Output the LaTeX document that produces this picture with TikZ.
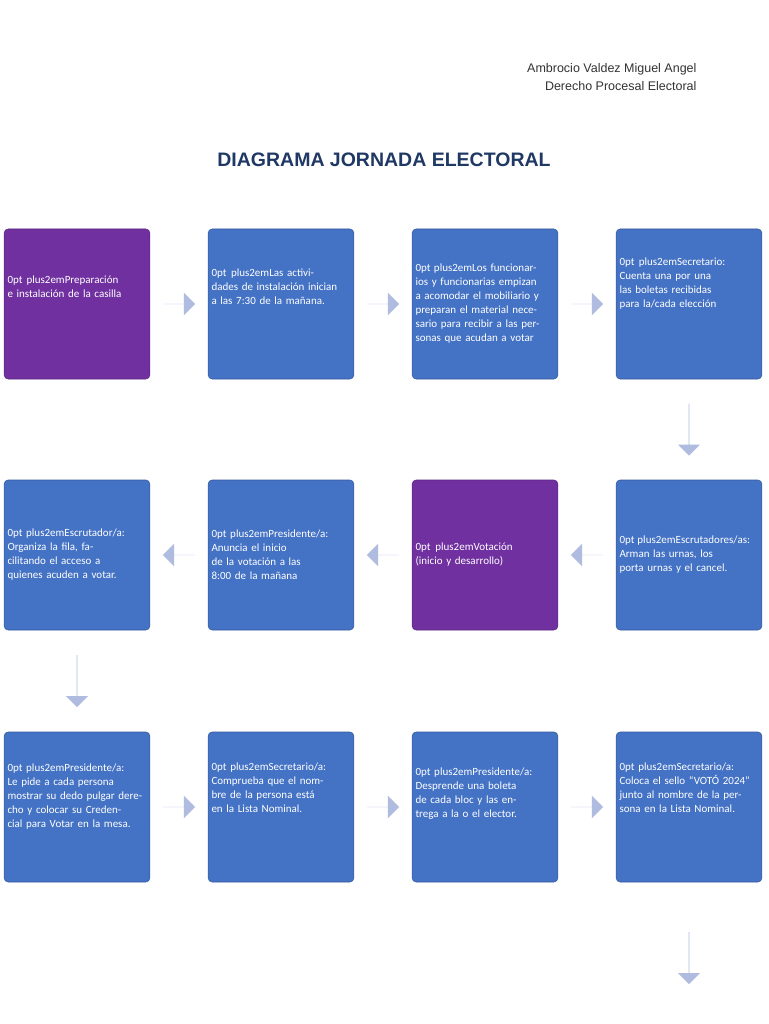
\documentclass[tikz,border=0pt]{standalone}
\usepackage{fontspec}
\setmainfont{Carlito}
\newfontfamily\headfont{Liberation Sans}
\usepackage{xcolor}
\usetikzlibrary{shapes.arrows,calc}
\definecolor{boxblue}{HTML}{4472C4}
\definecolor{boxpurple}{HTML}{7030A0}
\definecolor{arrowblue}{HTML}{AFBCE0}
\definecolor{titleblue}{HTML}{1F3864}
\tikzstyle{stepbox} = [rectangle, rounded corners=4pt, minimum width=145pt, minimum height=150pt, text width=139pt, align=center, fill=boxblue, draw=boxblue!80!black, line width=0.6pt, text=white, font=\fontsize{11}{14}\selectfont\hyphenpenalty=10000\spaceskip=0.25em plus 0.1em]
\tikzstyle{phase} = [stepbox, fill=boxpurple, draw=boxpurple!80!black]
\tikzstyle{blockarrow} = [single arrow, fill=arrowblue, minimum height=32pt, minimum width=22pt, single arrow head extend=11pt, inner sep=0pt, single arrow tip angle=90]
\tikzstyle{downarrow} = [blockarrow, shape border rotate=270, minimum height=52pt, minimum width=22pt, single arrow head extend=8pt]
\begin{document}
\begin{tikzpicture}[x=1pt, y=-1pt]
    \useasboundingbox (0,0) rectangle (768,1024);
    \fill[white] (0,0) rectangle (768,1024);
    \node (author) [anchor=north east, align=right, font=\headfont\fontsize{12.5}{18}\selectfont, text=black!80] at (700,60) {Ambrocio Valdez Miguel Angel\\Derecho Procesal Electoral};
    \node (title) [font=\headfont\bfseries\fontsize{19.5}{24}\selectfont, text=titleblue] at (384,160) {DIAGRAMA JORNADA ELECTORAL};
    % primera fila
    \node (prep) [phase] at (77,304) {Preparación e instalación de la casilla\\[20pt]\mbox{}};
    \node (inicio) [stepbox] at (281,304) {Las actividades de instalación inician a las 7:30 de la mañana.\\[20pt]\mbox{}};
    \node (mobil) [stepbox] at (485,304) {Los funcionarios y funcionarias empizan a acomodar el mobiliario y preparan el material necesario para recibir a las personas que acudan a votar};
    \node (cuenta) [stepbox] at (689,304) {Secretario: Cuenta una por una las boletas recibidas para la/cada elección\\[28pt]\mbox{}};
    % segunda fila
    \node (urnas) [stepbox] at (689,555) {Escrutadores/as: Arman las urnas, los porta urnas y el cancel.};
    \node (votacion) [phase] at (485,555) {Votación (inicio y desarrollo)};
    \node (anuncia) [stepbox] at (281,555) {Presidente/a: Anuncia el inicio de la votación a las 8:00 de la mañana};
    \node (fila) [stepbox] at (77,555) {Escrutador/a: Organiza la fila, facilitando el acceso a quienes acuden a votar.};
    % tercera fila
    \node (pulgar) [stepbox] at (77,807) {Presidente/a: Le pide a cada persona mostrar su dedo pulgar derecho y colocar su Credencial para Votar en la mesa.\\[8pt]\mbox{}};
    \node (lista) [stepbox] at (281,807) {Secretario/a: Comprueba que el nombre de la persona está en la Lista Nominal.\\[24pt]\mbox{}};
    \node (boleta) [stepbox] at (485,807) {Presidente/a: Desprende una boleta de cada bloc y las entrega a la o el elector.\\[14pt]\mbox{}};
    \node (sello) [stepbox] at (689,807) {Secretario/a: Coloca el sello “VOTÓ 2024” junto al nombre de la persona en la Lista Nominal.\\[24pt]\mbox{}};
    % flechas
    \foreach \a/\b in {prep/inicio, inicio/mobil, mobil/cuenta, pulgar/lista, lista/boleta, boleta/sello}
        \node [blockarrow] at ($(\a.east)!0.5!(\b.west)$) {};
    \foreach \a/\b in {urnas/votacion, votacion/anuncia, anuncia/fila}
        \node [blockarrow, shape border rotate=180] at ($(\a.west)!0.5!(\b.east)$) {};
    \node (down1) [downarrow] at ($(cuenta.south)!0.5!(urnas.north)$) {};
    \node (down2) [downarrow] at ($(fila.south)!0.5!(pulgar.north)$) {};
    \node (down3) [downarrow] at (689,958) {};
\end{tikzpicture}
\end{document}
